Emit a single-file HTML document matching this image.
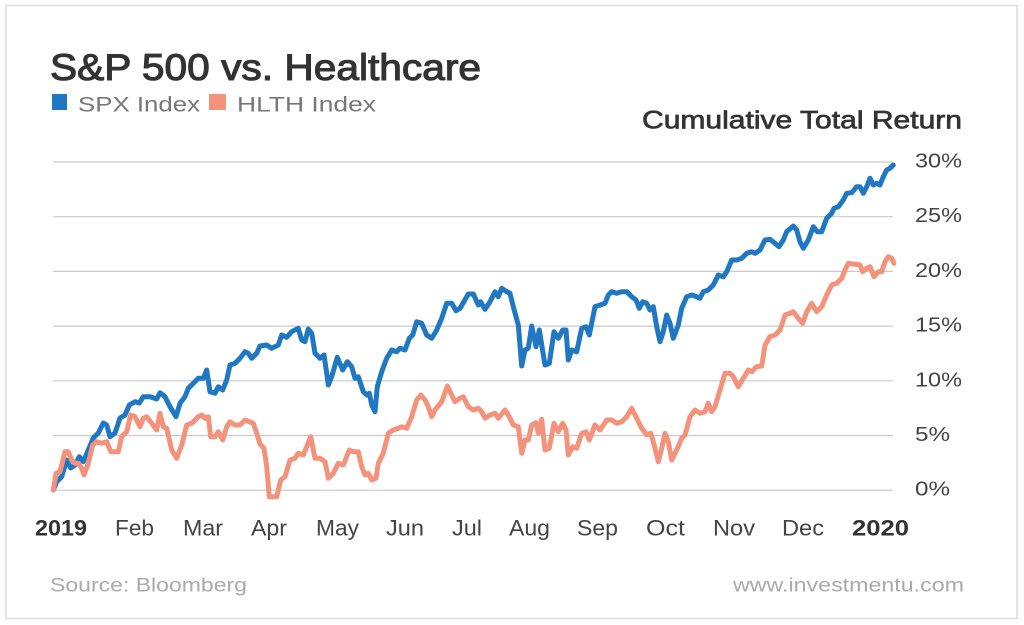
<!DOCTYPE html>
<html>
<head>
<meta charset="utf-8">
<style>
html,body{margin:0;padding:0;background:#fff;}
svg{display:block;}
text{font-family:"Liberation Sans",sans-serif;}
</style>
</head>
<body>
<svg width="1024" height="625" viewBox="0 0 1024 625" xmlns="http://www.w3.org/2000/svg">
<rect x="0" y="0" width="1024" height="625" fill="#fff"/>
<rect x="6" y="5.5" width="1011" height="613" fill="none" stroke="#e4e4e4" stroke-width="2"/>

<!-- Title -->
<text x="50" y="80" font-size="37" fill="#333" stroke="#333" stroke-width="1.1" textLength="431" lengthAdjust="spacingAndGlyphs">S&amp;P 500 vs. Healthcare</text>

<!-- Legend -->
<rect x="52" y="94" width="15" height="16" fill="#1f78c1"/>
<text x="78" y="111.5" font-size="21" fill="#777" textLength="122" lengthAdjust="spacingAndGlyphs">SPX Index</text>
<rect x="209" y="94" width="17" height="16" fill="#f4937b"/>
<text x="237" y="111.5" font-size="21" fill="#777" textLength="139" lengthAdjust="spacingAndGlyphs">HLTH Index</text>

<!-- Axis title -->
<text x="642" y="128.3" font-size="25" fill="#333" stroke="#333" stroke-width="0.7" textLength="320" lengthAdjust="spacingAndGlyphs">Cumulative Total Return</text>

<!-- Grid -->
<g stroke="#c9c9c9" stroke-width="1.2">
<line x1="53" y1="162" x2="893" y2="162"/>
<line x1="53" y1="216.7" x2="893" y2="216.7"/>
<line x1="53" y1="271.4" x2="893" y2="271.4"/>
<line x1="53" y1="326.1" x2="893" y2="326.1"/>
<line x1="53" y1="380.8" x2="893" y2="380.8"/>
<line x1="53" y1="435.5" x2="893" y2="435.5"/>
<line x1="53" y1="490.2" x2="893" y2="490.2"/>
</g>

<!-- Y labels -->
<g font-size="20" fill="#444">
<text x="915" y="167.5" textLength="47" lengthAdjust="spacingAndGlyphs">30%</text>
<text x="915" y="222.2" textLength="47" lengthAdjust="spacingAndGlyphs">25%</text>
<text x="915" y="276.9" textLength="47" lengthAdjust="spacingAndGlyphs">20%</text>
<text x="915" y="331.6" textLength="47" lengthAdjust="spacingAndGlyphs">15%</text>
<text x="915" y="386.3" textLength="47" lengthAdjust="spacingAndGlyphs">10%</text>
<text x="915" y="441" textLength="35" lengthAdjust="spacingAndGlyphs">5%</text>
<text x="915" y="495.7" textLength="35" lengthAdjust="spacingAndGlyphs">0%</text>
</g>

<!-- X labels -->
<g font-size="22" fill="#444">
<text x="35" y="535.7" font-weight="bold" fill="#333" textLength="52" lengthAdjust="spacingAndGlyphs">2019</text>
<text x="115" y="535.7" textLength="39" lengthAdjust="spacingAndGlyphs">Feb</text>
<text x="183" y="535.7" textLength="40" lengthAdjust="spacingAndGlyphs">Mar</text>
<text x="251" y="535.7" textLength="36" lengthAdjust="spacingAndGlyphs">Apr</text>
<text x="316" y="535.7" textLength="43" lengthAdjust="spacingAndGlyphs">May</text>
<text x="386" y="535.7" textLength="38" lengthAdjust="spacingAndGlyphs">Jun</text>
<text x="452" y="535.7" textLength="30" lengthAdjust="spacingAndGlyphs">Jul</text>
<text x="509" y="535.7" textLength="41" lengthAdjust="spacingAndGlyphs">Aug</text>
<text x="577" y="535.7" textLength="41" lengthAdjust="spacingAndGlyphs">Sep</text>
<text x="646" y="535.7" textLength="39" lengthAdjust="spacingAndGlyphs">Oct</text>
<text x="713" y="535.7" textLength="42" lengthAdjust="spacingAndGlyphs">Nov</text>
<text x="782" y="535.7" textLength="42" lengthAdjust="spacingAndGlyphs">Dec</text>
<text x="852" y="535.7" font-weight="bold" fill="#333" textLength="57" lengthAdjust="spacingAndGlyphs">2020</text>
</g>

<!-- Footer -->
<text x="50" y="591.7" font-size="19" fill="#aaa" textLength="197" lengthAdjust="spacingAndGlyphs">Source: Bloomberg</text>
<text x="733" y="591.7" font-size="19" fill="#aaa" textLength="231" lengthAdjust="spacingAndGlyphs">www.investmentu.com</text>

<!-- SPX -->
<polyline fill="none" stroke="#1f78c1" stroke-width="5" stroke-linejoin="round" stroke-linecap="round" points="53.3,490 56.7,481.7 61.7,476.7 66.7,460 70.7,468 75,465 79.3,456.7 83.3,461.7 88.3,450 93.3,438 98.3,433 103.3,423 106.7,425 110,436.7 115,433 120,418 125,415 129.3,405 135,401.7 139.3,403 143.3,396.7 150,396.7 156.7,399 160,392.7 165,396.7 170,406.7 176,416.7 180,403.3 185,396.7 188.3,388.3 193.3,383.3 198.3,378.3 203.3,378.3 206.7,370 210,391.7 215,393.3 218.3,386.7 222.7,390 226.7,380 230,365 235,363.3 240,358.3 245,351.7 248.3,353.3 251.7,358.3 256.7,353.3 260,346 266.7,345 271.7,348.3 278.3,345 281.7,335 286.7,337.3 291.7,331.7 298.3,328.3 301.7,340 305,341.7 308.3,329 311.7,333.3 315,353.3 320,358.3 324,355 326.7,373.3 328.3,385 331.7,376.7 337.3,357.3 342.7,370 347.3,361.7 351.7,366.7 355,378.3 358.3,376.7 363.3,391.7 366.7,395 369.3,393.3 371.7,405 375,411.7 377.3,386.7 381.7,371.7 386.7,358.3 391.7,350 396.7,351.7 400,348.3 405,350 409.3,338.3 412.7,335 416.7,321.7 421.7,323.3 426.7,335 431.7,338.3 436.7,330 441.7,318.3 446.7,303.3 451.7,303.3 456,310.7 460,308.3 463.3,302.7 468.3,294 473.3,294 478.3,305 480.7,301.7 485,309.3 490,301.7 495,291.7 498.3,296.7 501.7,288.3 506.7,291.7 510,293.3 513.3,306.7 518.3,325 521.7,366 525,350 528.3,348.3 531.7,326 536,346.7 539.3,330 541.7,345 545,365 549.3,363.3 554,331.7 558.3,338.3 562.7,330 566,330 568.3,360 571.7,350 576.7,351.7 581.7,328.3 586,326.7 589.3,335 595,306.7 600,305 605,303.3 608.3,295 611.7,291.7 616.7,293.3 621.7,291.7 626.7,291.7 631.7,296.7 636,300 639.3,308.3 642.7,301.7 646.7,303.3 650,310 653.3,306.7 656.7,326.7 660,341.7 663.3,331.7 666.7,315 670,323.3 673.3,338.3 678.3,325 681.7,308.3 686.7,296.7 691.7,295 696.7,296.7 700,298.3 703.3,291.7 708.3,290 713.3,285 718.3,275 723.3,276.7 726.7,271.7 731.7,260 736.7,260 741.7,258.3 746.7,253.3 751.7,251.7 755,253.3 760,250 765,240 770,239.3 775,243.3 779,246.7 783.3,240 786.7,231.7 793.3,226 796.7,230 800,241.7 803.3,248.3 808.3,240 813.3,226.7 817.3,231.7 821.7,231.7 826.7,218.3 831.7,213.3 834,208.3 838.3,206.7 843.3,200 846.7,193.3 851.7,192.7 856.7,186.7 860,186.7 863.3,193.3 866.7,186.7 870,178.3 873.3,185 876.7,183.3 880,185 883.3,176.7 886.7,170 890,168.3 893.3,165"/>

<!-- HLTH -->
<polyline fill="none" stroke="#f4937b" stroke-width="5" stroke-linejoin="round" stroke-linecap="round" points="53.3,490 56,473.3 60,471.7 65,451.7 68.3,451.7 71.7,460 75,463.3 78.3,463.3 81.7,468.3 84,475 88.3,463.3 92.7,445 96.7,441.7 101.7,443.3 106.7,441.7 110.7,451.7 115,451.7 118.3,451.7 121.7,436.7 126.7,431.7 130.7,415 135,416.7 140,426.7 143.3,418.3 146.7,416.7 151.7,423.3 156.7,430 160,413.3 163.3,426.7 166.7,428.3 171.7,450 176.7,458.3 181.7,445 186.7,425 191.7,423.3 195,420 198.3,416.7 201.7,415 205,418.3 208.3,416.7 210.7,436.7 215,436.7 218.3,431.7 222.7,440 226.7,426.7 230,421.7 235,425 240,425 245,420 249.3,421.7 253.3,423.3 256.7,433.3 260,444 264,448.3 266.7,466.7 269.3,496.7 276.7,496.7 280.7,480 285,476.7 290,460 295,458.3 298.3,453.3 303.3,455 306.7,446.7 310.7,436.7 315,458.3 320,458.3 325,461.7 328.3,478.3 333.3,473.3 338.3,463.3 343.3,465 349.3,450 353.3,451.7 358.3,451.7 361.7,466.7 365,475 368.3,473.3 371.7,480 376,478.3 378.3,463.3 383.3,453.3 388.3,433.3 393.3,430 398.3,428.3 401.7,426.7 406.7,428.3 411.7,416.7 416.7,400 420.7,395 425,400 428.3,406.7 431.7,416.7 435,410 441.7,401.7 447.3,386 451.7,395 455,401.7 460,398.3 463.3,396.7 468.3,406.7 473.3,410 478.3,408.3 481.7,411.7 485,418.3 490,415 495,413.3 498.3,418.3 505,410 509.3,416.7 513.3,425 518.3,426.7 521.7,453.3 525,440 528.3,440 531.7,425 536,422.7 538.3,433.3 541.7,419.3 545,450 549.3,448.3 554,423.3 558.3,431.7 562.7,423.3 566,430 568.3,455 572.7,446.7 576.7,448.3 581.7,433.3 586,431.7 589.3,440 595,425 600,430 606.7,420 611.7,420 616.7,423.3 621.7,421.7 626.7,416.7 631.7,408.3 636.7,418.3 641.7,428.3 646.7,435 650.7,433.3 653.3,441.7 658.3,461.7 661.7,448.3 665,433.3 668.3,441.7 671.7,460 676.7,450 681.7,438.3 685,435 690,416.7 695,410 700,413.3 705,411.7 708.3,403.3 711.7,411.7 715,406.7 720,390 725,373.3 730,373.3 733.3,376.7 738.3,386.7 743.3,378.3 748.3,370 751.7,371.7 756.7,366.7 761.7,366 765,345 770,336.7 775,335 780,330 785,315 790,313.3 793.3,311.7 798.3,318.3 802.7,323.3 806.7,311.7 811.7,303.3 816.7,311.7 821.7,306.7 826.7,295 831.7,285 836.7,283.3 841.7,278.3 845,270 848.3,263.3 853.3,264 860,265 862.7,271.7 866.7,268.3 870,266.7 874,276.7 878.3,271.7 881.7,271.7 885,261.7 888.3,256.7 891.7,258.3 894,263.3"/>
</svg>
</body>
</html>
